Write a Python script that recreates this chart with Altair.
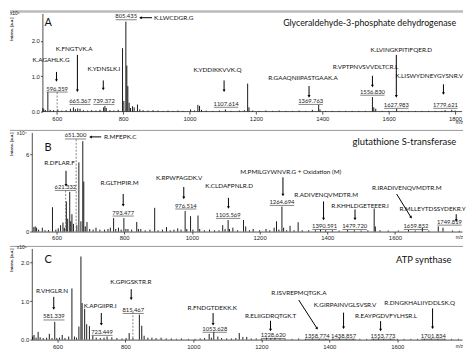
import math
import altair as alt
import pandas as pd

W = 434
FONT = "Lato"
AXFONT = "Liberation Sans"

# ---------------- Panel A : Glyceraldehyde-3-phosphate dehydrogenase (x10^5) ----------------
A_peaks = [(558,0.10),(561,0.06),(566,0.04),(573,0.55),(580,0.05),(590,0.04),(603,0.06),(615,0.03),
           (628,0.04),(641,0.08),(650,0.12),(656,0.07),(663,0.09),(670,0.08),(680,0.04),(693,0.03),
           (705,0.04),(718,0.03),(730,0.05),(741,0.12),(745,0.16),(749,0.10),(760,0.04),(772,0.03),
           (785,0.05),(798,1.79),(802,0.30),(808,2.54),(811,1.30),(814,0.72),(818,0.25),(822,0.10),
           (828,0.15),(833,0.12),(843,0.20),(850,0.06),(860,0.04),(875,0.03),(890,0.04),(905,0.03),
           (920,0.02),(935,0.03),(950,0.02),(965,0.03),(980,0.02),(1003,0.06),(1015,0.03),(1025,0.19),
           (1030,0.16),(1036,0.05),(1050,0.03),(1070,0.02),(1090,0.03),(1108,0.06),(1125,0.02),
           (1150,0.03),(1165,0.04),(1175,0.79),(1179,0.12),(1190,0.03),(1210,0.02),(1230,0.03),
           (1250,0.02),(1270,0.03),(1290,0.02),(1310,0.02),(1330,0.03),(1350,0.02),(1370,0.05),
           (1389,0.19),(1393,0.06),(1410,0.02),(1430,0.02),(1450,0.02),(1470,0.02),(1490,0.02),
           (1510,0.02),(1530,0.02),(1551,0.41),(1555,0.12),(1561,0.08),(1580,0.02),(1600,0.02),
           (1624,0.08),(1640,0.02),(1660,0.02),(1680,0.02),(1700,0.02),(1720,0.02),(1740,0.02),
           (1760,0.02),(1770,0.04),(1790,0.05),(1800,0.03)]
A_peps = [("K.AGAHLK.G",582.6,1.46),("K.FNGTVK.A",652,1.76),("K.YDNSLK.I",742,1.20),
          ("K.YDDIKKVVK.Q",1084,1.17),("R.GAAQNIIPASTGAAK.A",1342,0.96),("R.VPTPNVSVVDLTCR.L",1530,1.25),
          ("K.LVINGKPITIFQER.D",1638,1.74),("K.LISWYDNEYGYSNR.V",1722,1.01)]
A_arrows = [(599,1.12,599,0.88),(662,1.60,662,0.59),(740,0.88,740,0.64),(1104,0.88,1104,0.59),
            (1360,0.72,1360,0.43),(1551,1.01,1551,0.72),(1623,1.60,1623,0.43),(1765,0.77,1765,0.51)]
A_left = [("K.LWCDGR.G",893,887,852,2.65)]
A_mass = [("596.359",601,0.65),("665.367",670,0.30),("739.372",742,0.30),("805.435",809,2.69),
          ("1107.614",1110,0.22),("1369.763",1365,0.30),("1556.830",1551,0.56),("1627.983",1623,0.19),
          ("1779.621",1771,0.19)]
A_dash = [(601,0.55)]
A_title = ("Glyceraldehyde-3-phosphate dehydrogenase",1803,2.51)
A_letter = ("A",574,2.51)
A_xticks = [600,800,1000,1200,1400,1600,1800]
A_yticks = [0,0.5,1.0,1.5,2.0,2.5]

# ---------------- Panel B : glutathione S-transferase (x10^4) ----------------
B_peaks = [(533,0.35),(537,0.40),(541,0.30),(547,0.15),(558,0.30),(566,0.10),(576,0.12),(588,1.9),
           (598,0.15),(605,0.25),(612,0.5),(619,0.7),(623,0.3),(629,2.35),(633,1.0),(639,3.1),
           (642,0.8),(645.5,1.35),(650,0.6),(660,0.5),(666,5.4),(672,0.8),(677.6,7.05),(680.5,3.9),
           (685,0.4),(690,0.75),(698,0.2),(708,0.15),(716.6,0.3),(728,0.15),(742,0.15),(752,0.2),
           (759,0.3),(768.7,1.05),(775,0.2),(783,0.3),(791,0.15),(799,1.05),(805,0.2),(811,0.2),
           (822,0.15),(837,0.75),(842,0.2),(849,0.2),(862,0.1),(876,0.15),(890,1.85),(900,0.1),
           (913,0.15),(925,0.35),(936,0.1),(947,0.15),(958,0.25),(968,0.15),(980,1.6),(985,0.2),
           (996,1.2),(1003,0.15),(1018,1.25),(1023,0.2),(1037,0.1),(1052,0.15),(1067,0.1),(1080,0.1),
           (1091,0.5),(1098,0.2),(1107,0.9),(1111,0.2),(1121,0.3),(1135,0.1),(1152.6,0.9),(1159,0.4),
           (1170,0.1),(1181,0.2),(1200,0.1),(1219,0.2),(1230,0.1),(1243,0.3),(1250,0.8),(1257,0.15),
           (1266,1.95),(1271,0.3),(1280,0.1),(1290,0.45),(1302,0.1),(1314,0.73),(1326,0.1),(1345,0.1),
           (1365,0.1),(1380,0.15),(1395,0.1),(1415,0.1),(1435,0.08),(1460,0.12),(1480,0.1),(1500,0.08),
           (1520,0.1),(1538.6,1.8),(1542,0.4),(1556,0.1),(1580,0.08),(1610,0.08),(1640,0.12),
           (1660,0.08),(1681,0.3),(1700,0.08),(1728,0.4),(1742,0.3),(1770,0.08),(1790,0.06)]
B_peps = [("R.DFLAR.F",609,5.32),("R.GLTHPIR.M",786,3.78),("K.RPWFAGDK.V",962,4.19),
          ("K.CLDAFPNLR.D",1110,3.53),("M.PMILGYWNVR.G + Oxidation (M)",1292,4.68),
          ("R.ADIVENQVMDTR.M",1397,2.86),("R.KHHLDGETEEER.I",1497,2.03),
          ("R.IRADIVENQVMDTR.M",1635,3.36),("R.MLLEYTDSSYDEKR.Y",1711,1.78)]
B_arrows = [(628,4.74,628,3.61),(797,2.93,797,2.05),(976,3.48,976,2.63),(1108,2.63,1108,1.88),
            (1269,4.23,1269,2.86),(1389,2.35,1389,0.98),(1482,1.73,1482,0.98),(1605,2.93,1647.5,1.11),
            (1781,1.35,1781,0.85)]
B_left = [("R.MFEPK.C",740,732,700.4,7.39)]
B_mass = [("651.300",656,7.50),("621.332",626,3.48),("793.477",797,1.48),("976.514",982,2.03),
          ("1105.569",1107,1.30),("1264.694",1266,2.31),("1390.591",1392,0.43),("1479.720",1481,0.43),
          ("1659.852",1662,0.43),("1749.819",1761,0.77)]
B_dash = [(658,7.2),(627,3.2)]
B_title = ("glutathione S-transferase",1781,6.99)
B_letter = ("B",575,6.54)
B_xticks = [600,800,1000,1200,1400,1600]
B_yticks = [0,2,4,6]

# ---------------- Panel C : ATP synthase (x10^5) ----------------
C_peaks = [(527,0.08),(531,0.12),(537,0.05),(543,0.20),(549,0.06),(558,0.04),(568,0.05),(576,0.15),
           (584,0.04),(592,0.46),(598,0.04),(606,0.05),(614,0.12),(622,0.04),(633,0.08),(642.5,1.33),
           (650,0.08),(656,0.05),(663,0.34),(669,2.16),(672.5,0.95),(680,0.80),(686,0.40),(694,0.35),
           (704,0.10),(714,0.05),(726,0.04),(737,0.05),(746,0.08),(760,0.06),(775,0.04),(790,0.03),
           (802,0.04),(811,0.17),(822,0.04),(841,0.65),(848,0.36),(855,0.10),(866,0.05),(878,0.05),
           (890,0.04),(905,0.05),(920,0.03),(935,0.03),(950,0.02),(965,0.03),(985,0.02),(1005,0.02),
           (1020,0.03),(1033,0.04),(1046.5,0.15),(1053,0.05),(1060,0.20),(1072,0.08),(1083,0.04),
           (1098,0.03),(1112,0.03),(1125,0.04),(1135,0.17),(1145.6,0.07),(1157,0.07),(1170,0.03),
           (1185,0.03),(1200,0.02),(1215,0.05),(1228,0.04),(1240,0.05),(1255,0.03),(1270,0.02),
           (1290,0.02),(1310,0.03),(1330,0.02),(1350,0.03),(1370,0.02),(1390,0.02),(1410,0.02),
           (1430,0.03),(1450,0.02),(1470,0.02),(1490,0.02),(1510,0.02),(1530,0.02),(1545,0.03),
           (1560,0.02),(1580,0.02),(1600,0.02),(1620,0.02),(1640,0.02),(1660,0.02),(1680,0.02),
           (1700,0.03),(1720,0.02),(1740,0.02),(1760,0.02),(1780,0.02)]
C_peps = [("R.VHGLR.N",584,1.25),("K.APGIIPR.I",725.5,0.88),("K.GPIGSKTR.R",816,1.49),
          ("R.FNDGTDEKK.K",1055.5,0.81),("R.ELIIGDRQTGK.T",1227,0.62),("R.ISVREPMQTGK.A",1310.5,1.21),
          ("K.GIRPAINVGLSVSR.V",1446.5,0.89),("R.EAYPGDVFYLHSR.L",1567,0.62),
          ("R.DNGKHALIIYDDLSK.Q",1666,0.95)]
C_arrows = [(589,1.11,589,0.81),(729,0.69,729,0.40),(817,1.31,817,1.06),(1058,0.69,1058,0.40),
            (1227,0.49,1227,0.25),(1310,1.03,1364,0.29),(1442,0.70,1442,0.31),(1551,0.48,1551,0.25),
            (1704,0.81,1704,0.31)]
C_left = []
C_mass = [("581.339",589.5,0.60),("723.449",731,0.20),("815.467",823,0.77),("1053.628",1063,0.28),
          ("1228.620",1235,0.12),("1358.774",1364,0.10),("1438.857",1442,0.10),("1553.773",1558,0.10),
          ("1701.834",1706,0.10)]
C_dash = [(822,0.72)]
C_title = ("ATP synthase",1759.5,2.07)
C_letter = ("C",572.5,2.06)
C_xticks = [600,800,1000,1200,1400,1600]
C_yticks = [0,0.5,1.0,1.5,2.0]

ONE = pd.DataFrame({"a": [0]})


def text_width(s):
    return sum(3.3 if ch.isdigit() else 1.5 for ch in s)


def build(P):
    dom, ymax, h = P["dom"], P["ymax"], P["h"]
    ppu = W / (dom[1] - dom[0])
    ppy = h / ymax
    xs = alt.Scale(domain=dom, nice=False, zero=False)
    ys = alt.Scale(domain=[0, ymax], nice=False, zero=False)

    def X(f):
        return alt.X(f, type="quantitative", scale=xs, title=None)

    def Y(f):
        return alt.Y(f, type="quantitative", scale=ys, title=None)

    L = []
    peaks = pd.DataFrame(P["peaks"], columns=["m", "i"])
    L.append(alt.Chart(peaks).mark_rule(color="black", strokeWidth=0.9).encode(
        x=alt.X("m:Q", scale=xs, title=None,
                axis=alt.Axis(values=P["xt"], format="d", labelFontSize=6, tickSize=2.5,
                              labelPadding=1, domain=P["xdom"], grid=False)),
        y=alt.Y("i:Q", scale=ys, title=None,
                axis=alt.Axis(values=P["yt"], format=P["yfmt"], labelFontSize=6, tickSize=2,
                              labelPadding=1, grid=False, offset=P["yoff"])),
        y2=alt.datum(0)))
    if not P["xdom"]:
        base = pd.DataFrame({"m1": [P["base0"]], "m2": [dom[1]], "z": [0]})
        L.append(alt.Chart(base).mark_rule(color="#222", strokeWidth=0.8).encode(
            x=X("m1"), x2="m2", y=Y("z")))

    dash = pd.DataFrame(P["dash"], columns=["m", "t"])
    L.append(alt.Chart(dash).mark_rule(color="#666", strokeWidth=0.8, strokeDash=[2, 1.5]).encode(
        x=X("m"), y=Y("t"), y2=alt.datum(0)))

    ar = pd.DataFrame(P["arrows"], columns=["m1", "t", "m2", "b"])
    ar["ang"] = [(-math.degrees(math.atan2((r.m2 - r.m1) * ppu, (r.t - r.b) * ppy))) % 360
                 for r in ar.itertuples()]
    L.append(alt.Chart(ar).mark_rule(color="black", strokeWidth=1).encode(
        x=X("m1"), x2="m2", y=Y("t"), y2="b"))
    L.append(alt.Chart(ar).mark_point(shape="triangle-down", filled=True, size=9, color="black",
                                      opacity=1).encode(
        x=X("m2"), y=Y("b"), angle=alt.Angle("ang:Q", scale=None)))

    if P["left"]:
        la = pd.DataFrame(P["left"], columns=["t", "lm", "m1", "m2", "y"])
        L.append(alt.Chart(la).mark_rule(color="black", strokeWidth=1).encode(
            x=X("m1"), x2="m2", y=Y("y")))
        L.append(alt.Chart(la).mark_point(shape="triangle-left", filled=True, size=9, color="black",
                                          opacity=1).encode(x=X("m2"), y=Y("y")))
        L.append(alt.Chart(la).mark_text(font=FONT, fontSize=6.5, align="left", baseline="middle",
                                         color="#111").encode(x=X("lm"), y=Y("y"), text="t:N"))

    pep = pd.DataFrame(P["peps"], columns=["t", "m", "y"])
    L.append(alt.Chart(pep).mark_text(font=FONT, fontSize=6.4, baseline="middle", color="#111").encode(
        x=X("m"), y=Y("y"), text="t:N"))

    ms = pd.DataFrame(P["mass"], columns=["t", "m", "y"])
    ms["u1"] = [r.m - text_width(r.t) / 2 / ppu for r in ms.itertuples()]
    ms["u2"] = [r.m + text_width(r.t) / 2 / ppu for r in ms.itertuples()]
    ms["uy"] = ms["y"] - 3.5 / ppy
    L.append(alt.Chart(ms).mark_text(font=FONT, fontSize=5.9, baseline="middle", color="#222").encode(
        x=X("m"), y=Y("y"), text="t:N"))
    L.append(alt.Chart(ms).mark_rule(color="#333", strokeWidth=0.6).encode(
        x=X("u1"), x2="u2", y=Y("uy")))

    tt = pd.DataFrame([P["title"]], columns=["t", "m", "y"])
    L.append(alt.Chart(tt).mark_text(font=FONT, fontSize=P["tsize"], align="right", baseline="middle",
                                     color="#111").encode(x=X("m"), y=Y("y"), text="t:N"))
    lt = pd.DataFrame([P["letter"]], columns=["t", "m", "y"])
    L.append(alt.Chart(lt).mark_text(font=FONT, fontSize=11, baseline="middle", color="#111").encode(
        x=X("m"), y=Y("y"), text="t:N"))

    # decorations in pixel space
    L.append(alt.Chart(ONE).mark_rule(color=P["bcol"], strokeWidth=P["bw"]).encode(
        x=alt.value(-22), x2=alt.value(W + 1), y=alt.value(-2)))
    L.append(alt.Chart(ONE).mark_text(text=P["expo"], font=AXFONT, fontSize=5, align="right",
                                      baseline="middle", color="#222").encode(
        x=alt.value(P["ex"]), y=alt.value(P["ey"])))
    L.append(alt.Chart(ONE).mark_text(text="Intens. [a.u.]", font=AXFONT, fontSize=4,
                                      fontWeight="bold", angle=270, align="right", baseline="middle",
                                      color="#222").encode(x=alt.value(-20), y=alt.value(P["ty"])))
    L.append(alt.Chart(ONE).mark_text(text="m/z", font=AXFONT, fontSize=4.5, align="right",
                                      baseline="middle", color="#222").encode(
        x=alt.value(W + 1), y=alt.value(h + P["mzy"])))

    return alt.layer(*L).properties(width=W, height=h)


PA = dict(dom=[524.6, 1821], ymax=2.77, h=99, peaks=A_peaks, peps=A_peps, arrows=A_arrows,
          left=A_left, mass=A_mass, dash=A_dash, title=A_title, letter=A_letter, xt=A_xticks,
          yt=A_yticks, yfmt=".1f", yoff=-10.7, xdom=False, base0=556.5, expo="x10\u2075",
          ex=-12, ey=0, ty=4, bcol="#bbbbbb", bw=2.5, tsize=8.9, mzy=12)
PB = dict(dom=[526.9, 1798.2], ymax=7.74, h=100, peaks=B_peaks, peps=B_peps, arrows=B_arrows,
          left=B_left, mass=B_mass, dash=B_dash, title=B_title, letter=B_letter, xt=B_xticks,
          yt=B_yticks, yfmt="d", yoff=0, xdom=True, base0=0, expo="x10\u2074",
          ex=-5, ey=1, ty=0, bcol="#999999", bw=1, tsize=9.5, mzy=7)
PC = dict(dom=[524.4, 1790.7], ymax=2.37, h=92, peaks=C_peaks, peps=C_peps, arrows=C_arrows,
          left=C_left, mass=C_mass, dash=C_dash, title=C_title, letter=C_letter, xt=C_xticks,
          yt=C_yticks, yfmt=".1f", yoff=0, xdom=True, base0=0, expo="x10\u2075",
          ex=-5, ey=-1, ty=0, bcol="#999999", bw=1, tsize=9.5, mzy=7)

chart = alt.vconcat(build(PA), build(PB), build(PC), spacing=4).properties(
    padding={"left": 0, "top": 0, "right": 0, "bottom": 0}
).configure_view(stroke=None).configure_axis(
    labelFont=AXFONT, labelColor="#222", domainColor="#222", tickColor="#222",
    domainWidth=0.8, tickWidth=0.8
)

chart.save("out.html", embed_options={"renderer": "svg", "actions": False})
